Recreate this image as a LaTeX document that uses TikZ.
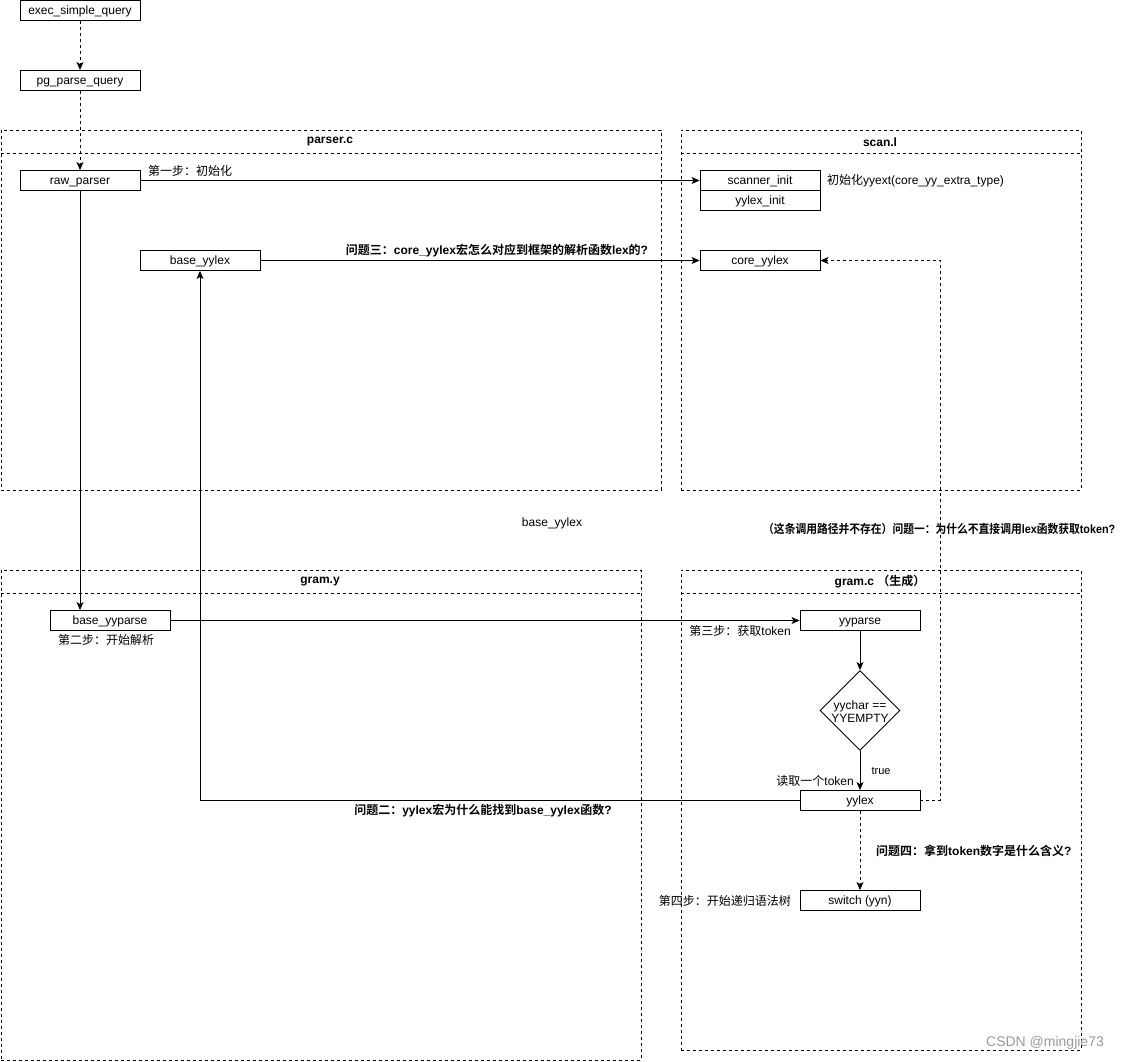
\documentclass[tikz,border=0pt]{standalone}
\usepackage{fontspec}
\usepackage{graphicx}
\setmainfont{Liberation Sans}
\newfontfamily\cjk{Noto Sans CJK SC}[BoldFont={Noto Sans CJK SC Bold}]
\newcommand{\C}[1]{{\cjk #1}}
\usetikzlibrary{arrows.meta,shapes.geometric}
\begin{document}
\begin{tikzpicture}[x=1pt,y=-1pt,
  font=\fontsize{12}{14}\selectfont,
  box/.style={draw, line width=0.9pt, minimum width=120pt, minimum height=20pt, inner sep=0pt, fill=white, text height=9.5pt, text depth=1.5pt},
  cont/.style={draw, line width=0.8pt, dash pattern=on 3pt off 3pt, anchor=north west, inner sep=0pt},
  hdr/.style={line width=0.8pt, dash pattern=on 3pt off 3pt},
  ttl/.style={font=\fontsize{12}{14}\selectfont\bfseries, inner sep=0pt},
  lbl/.style={inner sep=0pt},
  qlbl/.style={inner sep=0pt, font=\fontsize{12}{14}\selectfont\bfseries},
  arr/.style={-{Stealth[length=8pt,width=7pt,inset=2pt]}, line width=0.9pt},
  darr/.style={arr, dash pattern=on 3pt off 3pt}]
\useasboundingbox (0,0) rectangle (1121,1061);

% containers
\node[cont, minimum width=660pt, minimum height=360pt] (parserc) at (0.5,130) {};
\draw[hdr] (0.5,153) -- (660.5,153);
\node[ttl] (tparser) at (330,142) {parser.c};

\node[cont, minimum width=400pt, minimum height=360pt] (scanl) at (680.5,130) {};
\draw[hdr] (680.5,153) -- (1080.5,153);
\node[ttl] (tscan) at (880,142) {scan.l};

\node[cont, minimum width=640pt, minimum height=490pt] (gramy) at (0.5,570) {};
\draw[hdr] (0.5,593) -- (640.5,593);
\node[ttl] (tgramy) at (320,582) {gram.y};

\node[cont, minimum width=400pt, minimum height=480pt] (gramc) at (680.5,570) {};
\draw[hdr] (680.5,593) -- (1080.5,593);
\node[ttl] (tgramc) at (880,582) {gram.c \C{（生成）}};

% boxes
\node[box] (exec) at (80,10.5) {exec\_simple\_query};
\node[box] (pg) at (80,80.5) {pg\_parse\_query};
\node[box] (raw) at (80,180.5) {raw\_parser};
\node[box] (scanner) at (760,180.5) {scanner\_init};
\node[box] (yyinit) at (760,200.5) {yylex\_init};
\node[box] (bylex) at (200,260.5) {base\_yylex};
\node[box] (corelex) at (760,260.5) {core\_yylex};
\node[box] (byparse) at (110,620.5) {base\_yyparse};
\node[box] (yyparse) at (860,620.5) {yyparse};
\node[draw, line width=0.9pt, shape=diamond, minimum width=80pt, minimum height=80pt, inner sep=0pt, fill=white] (dia) at (860,710.5) {};
\node[lbl, align=center, font=\fontsize{12}{13}\selectfont] (diat) at (860,711.5) {yychar ==\\YYEMPTY};
\node[box] (yylex) at (860,800.5) {yylex};
\node[box] (switch) at (860,900.5) {switch (yyn)};

% connectors
\draw[darr] (exec) -- (pg);
\draw[darr] (pg) -- (raw);
\draw[arr] (raw) -- (scanner);
\draw[arr] (raw.south) -- (raw.south |- byparse.north);
\draw[arr] (bylex) -- (corelex);
\draw[arr] (byparse) -- (yyparse);
\draw[arr] (yyparse) -- (dia);
\draw[arr] (dia) -- (yylex);
\draw[arr] (yylex.west) -| (bylex.south);
\coordinate (turn) at (940,800.5);
\draw[darr] (yylex.east) -- (turn) |- (corelex.east);
\draw[darr] (yylex) -- (switch);

% labels
\node[lbl, anchor=west] (l1) at (148,171) {\C{第一步：初始化}};
\node[lbl, anchor=west] (linit) at (827,181) {\C{初始化}yyext(core\_yy\_extra\_type)};
\node[qlbl] (q3) at (497,251) {\C{问题三：}core\_yylex\C{宏怎么对应到框架的解析函数}lex\C{的}?};
\node[lbl] (bl) at (552,523) {base\_yylex};
\node[qlbl, anchor=west] (q1) at (763,529) {\resizebox{352pt}{\height}{\C{（这条调用路径并不存在）问题一：为什么不直接调用}lex\C{函数获取}token?}};
\node[lbl] (l2) at (106,640) {\C{第二步：开始解析}};
\node[lbl, anchor=east] (l3) at (791,631) {\C{第三步：获取}token};
\node[lbl, font=\fontsize{11}{13}\selectfont] (ltrue) at (881,771) {true};
\node[lbl, anchor=east] (lread) at (854,781) {\C{读取一个}token};
\node[qlbl] (q2) at (483,811) {\C{问题二：}yylex\C{宏为什么能找到}base\_yylex\C{函数}?};
\node[qlbl, anchor=west] (q4) at (876,851) {\C{问题四：拿到}token\C{数字是什么含义}?};
\node[lbl, anchor=east] (l4) at (791,901) {\C{第四步：开始递归语法树}};
\node[lbl, text=black!40, font=\fontsize{14}{16}\selectfont] (wm) at (1045,1043) {CSDN @mingjie73};
\end{tikzpicture}
\end{document}
